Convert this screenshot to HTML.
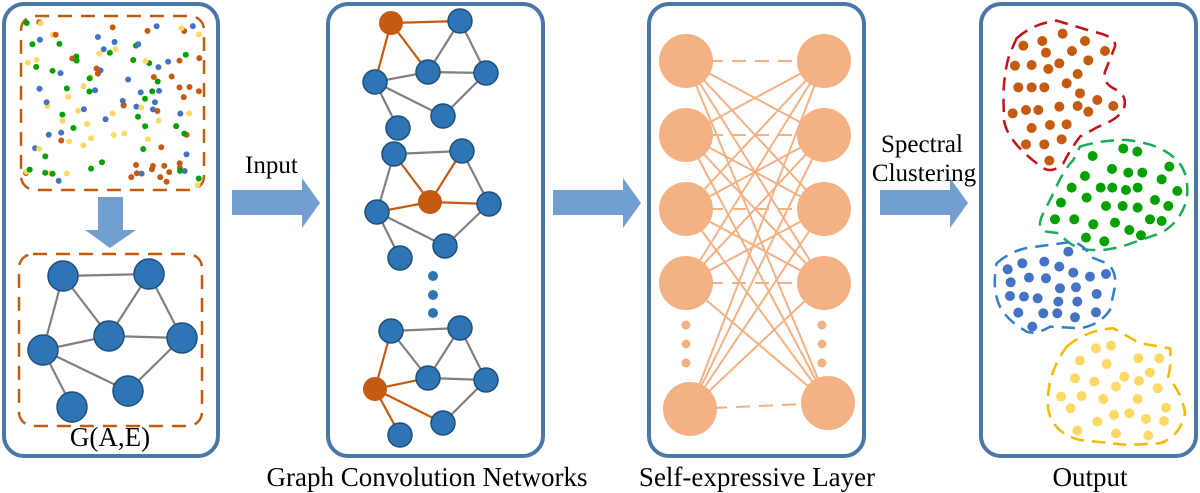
<!DOCTYPE html>
<html><head><meta charset="utf-8"><style>
html,body{margin:0;padding:0;background:#fff}
svg{display:block}
text{font-family:"Liberation Serif",serif;fill:#000}
</style></head><body>
<svg id="s" width="1200" height="493" viewBox="0 0 1200 493" xmlns="http://www.w3.org/2000/svg">
<g fill="none" stroke="#4a76a8" stroke-width="4">
<rect x="4" y="4" width="214" height="452" rx="20"/>
<rect x="328" y="4" width="215" height="452" rx="20"/>
<rect x="649" y="4" width="215" height="452" rx="20"/>
<rect x="981" y="4" width="215" height="452" rx="20"/>
</g>
<g fill="none" stroke="#c55a11" stroke-width="2.5" stroke-dasharray="14,9">
<rect x="21" y="16" width="183" height="174" rx="14"/>
<rect x="19" y="254" width="183" height="172" rx="14"/>
</g>
<g id="scatter"></g>
<polygon points="98,197 123,197 123,230 136,230 110,248 85,230 98,230" fill="#729fcf"/>
<g fill="#729fcf">
<polygon points="232,190 302,190 302,178 320,203 302,228 302,215 232,215"/>
<polygon points="553,190 623,190 623,178 641,203 623,228 623,215 553,215"/>
<polygon points="880,190 950,190 950,178 968,203 950,228 950,215 880,215"/>
</g>
<g id="graphs"></g>
<g id="nn"></g>
<g id="clusters"></g>
<text x="245" y="173" font-size="25">Input</text>
<text x="922" y="152" font-size="25" text-anchor="middle">Spectral</text>
<text x="924" y="181" font-size="25" text-anchor="middle">Clustering</text>
<text x="110" y="446" font-size="27" text-anchor="middle">G(A,E)</text>
<text x="427" y="486" font-size="27" text-anchor="middle">Graph Convolution Networks</text>
<text x="757" y="486" font-size="27" text-anchor="middle">Self-expressive Layer</text>
<text x="1090" y="486" font-size="27" text-anchor="middle">Output</text>
</svg>
<script>
const NS="http://www.w3.org/2000/svg";
function el(p,t,a){const e=document.createElementNS(NS,t);for(const k in a)e.setAttribute(k,a[k]);p.appendChild(e);return e;}
let seed=7;function rnd(){seed=(seed*16807)%2147483647;return seed/2147483647;}
const sc=document.getElementById('scatter');const cols=['#c55a11','#00a000','#4472c4','#ffd966'];
for(let i=0;i<130;i++){el(sc,'circle',{cx:26+rnd()*174,cy:22+rnd()*164,r:3,fill:cols[i%4]});}
const g=document.getElementById('graphs');
const BL='#2e75b6',OR='#c55a11',GR='#808080';
function graph(nodes,edges,r,orangeIdx){
 edges.forEach(e=>{const a=nodes[e[0]],b=nodes[e[1]];el(g,'line',{x1:a[0],y1:a[1],x2:b[0],y2:b[1],stroke:e[2]?OR:GR,'stroke-width':2.2});});
 nodes.forEach((n,i)=>{const o=i===orangeIdx;el(g,'circle',{cx:n[0],cy:n[1],r:r,fill:o?OR:BL,stroke:o?'none':'#1f4e79','stroke-width':1.5});});
}
graph([[63,276],[149,274],[43,350],[109,336],[182,338],[128,391],[72,407]],
 [[0,1],[0,2],[0,3],[1,3],[1,4],[2,3],[3,4],[2,5],[5,4],[2,6]],15,-1);
graph([[391,23],[460,21],[375,82],[428,72],[486,73],[443,116],[398,128]],
 [[0,1,1],[0,2,1],[0,3,1],[1,3],[1,4],[2,3],[3,4],[2,5],[5,4],[2,6]],12,0);
graph([[394,154],[462,151],[377,212],[430,202],[489,204],[445,246],[400,258]],
 [[0,1],[0,3,1],[1,3,1],[0,2],[2,3,1],[3,4,1],[1,4],[2,5],[5,4],[2,6]],12,3);
graph([[391,331],[460,328],[375,389],[428,378],[486,380],[443,423],[400,435]],
 [[0,1],[0,2,1],[0,3],[1,3],[1,4],[2,3,1],[3,4],[2,5,1],[5,4],[2,6,1]],12,2);
[276,295,313].forEach(y=>el(g,'circle',{cx:433,cy:y,r:5,fill:BL}));
const nn=document.getElementById('nn');const PC='#f4b183';
const L=[[686,61],[686,135],[686,209],[686,283],[690,409]],R=[[824,61],[824,135],[824,209],[824,283],[828,403]];
L.forEach((a,i)=>R.forEach((b,j)=>{if(i!==j)el(nn,'line',{x1:a[0],y1:a[1],x2:b[0],y2:b[1],stroke:PC,'stroke-width':2});else el(nn,'line',{x1:a[0],y1:a[1],x2:b[0],y2:b[1],stroke:PC,'stroke-width':2,'stroke-dasharray':'14,9'});}));
L.concat(R).forEach(p=>el(nn,'circle',{cx:p[0],cy:p[1],r:27,fill:PC}));
[325,344,363].forEach(y=>{el(nn,'circle',{cx:686,cy:y,r:4.5,fill:PC});el(nn,'circle',{cx:822,cy:y,r:4.5,fill:PC});});
const cl=el(document.getElementById('clusters'),'g',{transform:'translate(860,0) scale(0.3333)'});
const C=[
 ['#c0121a','#c55a11','M470,115 Q520,70 590,62 L700,95 Q770,110 765,140 L735,215 Q725,250 770,270 Q805,290 790,330 Q770,360 715,380 L660,410 Q630,450 610,490 Q570,530 530,490 Q440,420 432,360 L430,280 Q435,200 450,160 Z',
 [[490,137],[547,123],[608,101],[675,123],[558,158],[636,153],[735,153],[685,181],[465,197],[515,195],[565,207],[598,190],[653,222],[475,262],[515,262],[553,262],[620,250],[660,280],[712,300],[760,318],[458,340],[498,330],[535,330],[598,320],[653,318],[685,335],[515,384],[570,375],[620,373],[498,433],[553,433],[605,418],[568,482]]],
 ['#1aab5a','#00a000','M660,440 Q720,420 800,420 Q900,430 950,480 Q990,520 980,600 Q960,670 900,700 L800,735 Q720,760 660,745 Q620,730 600,700 L560,695 Q530,690 545,650 L580,580 Q610,510 640,480 Z',
 [[698,468],[790,446],[832,455],[675,528],[756,507],[805,518],[847,518],[928,500],[905,538],[635,563],[722,563],[757,563],[798,570],[833,563],[952,573],[603,608],[680,593],[738,618],[788,618],[833,623],[885,600],[925,618],[585,658],[643,658],[700,673],[765,668],[808,690],[870,658],[905,663],[843,706],[678,713],[733,724]]],
 ['#2f80c8','#4472c4','M410,790 Q460,745 530,740 L640,725 Q680,740 690,770 L740,790 Q770,810 765,860 L750,930 Q720,975 660,985 L570,980 Q530,1005 500,995 Q440,960 420,920 Q395,870 410,790 Z',
 [[625,755],[443,808],[487,790],[553,785],[598,800],[640,818],[690,830],[738,822],[452,847],[507,833],[558,835],[600,865],[648,862],[710,882],[450,888],[492,890],[533,895],[595,905],[652,905],[475,938],[550,940],[592,940],[645,952],[708,937],[517,980]]],
 ['#f5b800','#ffd966','M620,1040 Q680,990 760,985 L840,1030 L930,1045 Q935,1090 925,1130 Q970,1190 975,1240 Q960,1310 900,1330 L800,1335 L660,1320 Q580,1300 565,1230 Q555,1130 620,1040 Z',
 [[708,1045],[753,1037],[660,1082],[740,1092],[835,1075],[898,1075],[645,1135],[703,1145],[793,1130],[837,1143],[870,1118],[768,1160],[893,1165],[603,1190],[665,1188],[730,1197],[833,1197],[632,1225],[918,1223],[762,1245],[808,1240],[858,1257],[712,1265],[912,1263],[652,1292],[768,1300],[865,1307]]]
];
C.forEach(c=>{el(cl,'path',{d:c[2],fill:'none',stroke:c[0],'stroke-width':7.5,'stroke-dasharray':'40,24'});c[3].forEach(p=>el(cl,'circle',{cx:p[0],cy:p[1],r:15,fill:c[1]}));});
</script>
</body></html>
